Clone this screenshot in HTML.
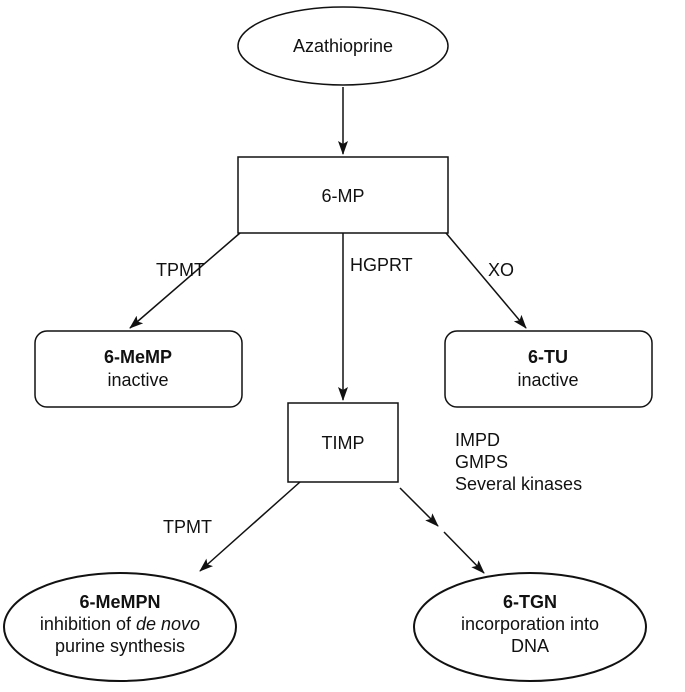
<!DOCTYPE html>
<html><head><style>
html,body{margin:0;padding:0;background:#fff;}
svg text{font-family:"Liberation Sans",Arial,sans-serif;font-size:18px;fill:#111;}
</style></head><body>
<svg width="685" height="687" viewBox="0 0 685 687" xmlns="http://www.w3.org/2000/svg">
<defs>
<marker id="a" viewBox="0 0 14 10" refX="13" refY="5" markerWidth="14" markerHeight="10" markerUnits="userSpaceOnUse" orient="auto">
<path d="M0,0 L14,5 L0,10 L3,5 z" fill="#111"/></marker>
</defs>
<g fill="none" stroke="#111" stroke-width="1.5">
<ellipse cx="343" cy="46" rx="105" ry="39"/>
<rect x="238" y="157" width="210" height="76"/>
<rect x="35" y="331" width="207" height="76" rx="12"/>
<rect x="445" y="331" width="207" height="76" rx="12"/>
<rect x="288" y="403" width="110" height="79"/>
<ellipse cx="120" cy="627" rx="116" ry="54" stroke-width="2"/>
<ellipse cx="530" cy="627" rx="116" ry="54" stroke-width="2"/>
<line x1="343" y1="87" x2="343" y2="154" marker-end="url(#a)"/>
<line x1="240" y1="233" x2="130" y2="328" marker-end="url(#a)"/>
<line x1="446" y1="233" x2="526" y2="328" marker-end="url(#a)"/>
<line x1="343" y1="233" x2="343" y2="400" marker-end="url(#a)"/>
<line x1="300" y1="482" x2="200" y2="571" marker-end="url(#a)"/>
<line x1="400" y1="488" x2="438" y2="526" marker-end="url(#a)"/>
<line x1="444" y1="532" x2="484" y2="573" marker-end="url(#a)"/>
</g>
<g text-anchor="middle">
<text x="343" y="52">Azathioprine</text>
<text x="343" y="202">6-MP</text>
<text x="138" y="363" font-weight="bold">6-MeMP</text>
<text x="138" y="386">inactive</text>
<text x="548" y="363" font-weight="bold">6-TU</text>
<text x="548" y="386">inactive</text>
<text x="343" y="449">TIMP</text>
<text x="120" y="608" font-weight="bold">6-MeMPN</text>
<text x="120" y="630">inhibition of <tspan font-style="italic">de novo</tspan></text>
<text x="120" y="652">purine synthesis</text>
<text x="530" y="608" font-weight="bold">6-TGN</text>
<text x="530" y="630">incorporation into</text>
<text x="530" y="652">DNA</text>
</g>
<text x="156" y="276">TPMT</text>
<text x="350" y="271">HGPRT</text>
<text x="488" y="276">XO</text>
<text x="455" y="446">IMPD</text>
<text x="455" y="468">GMPS</text>
<text x="455" y="490">Several kinases</text>
<text x="163" y="533">TPMT</text>
</svg>
</body></html>
